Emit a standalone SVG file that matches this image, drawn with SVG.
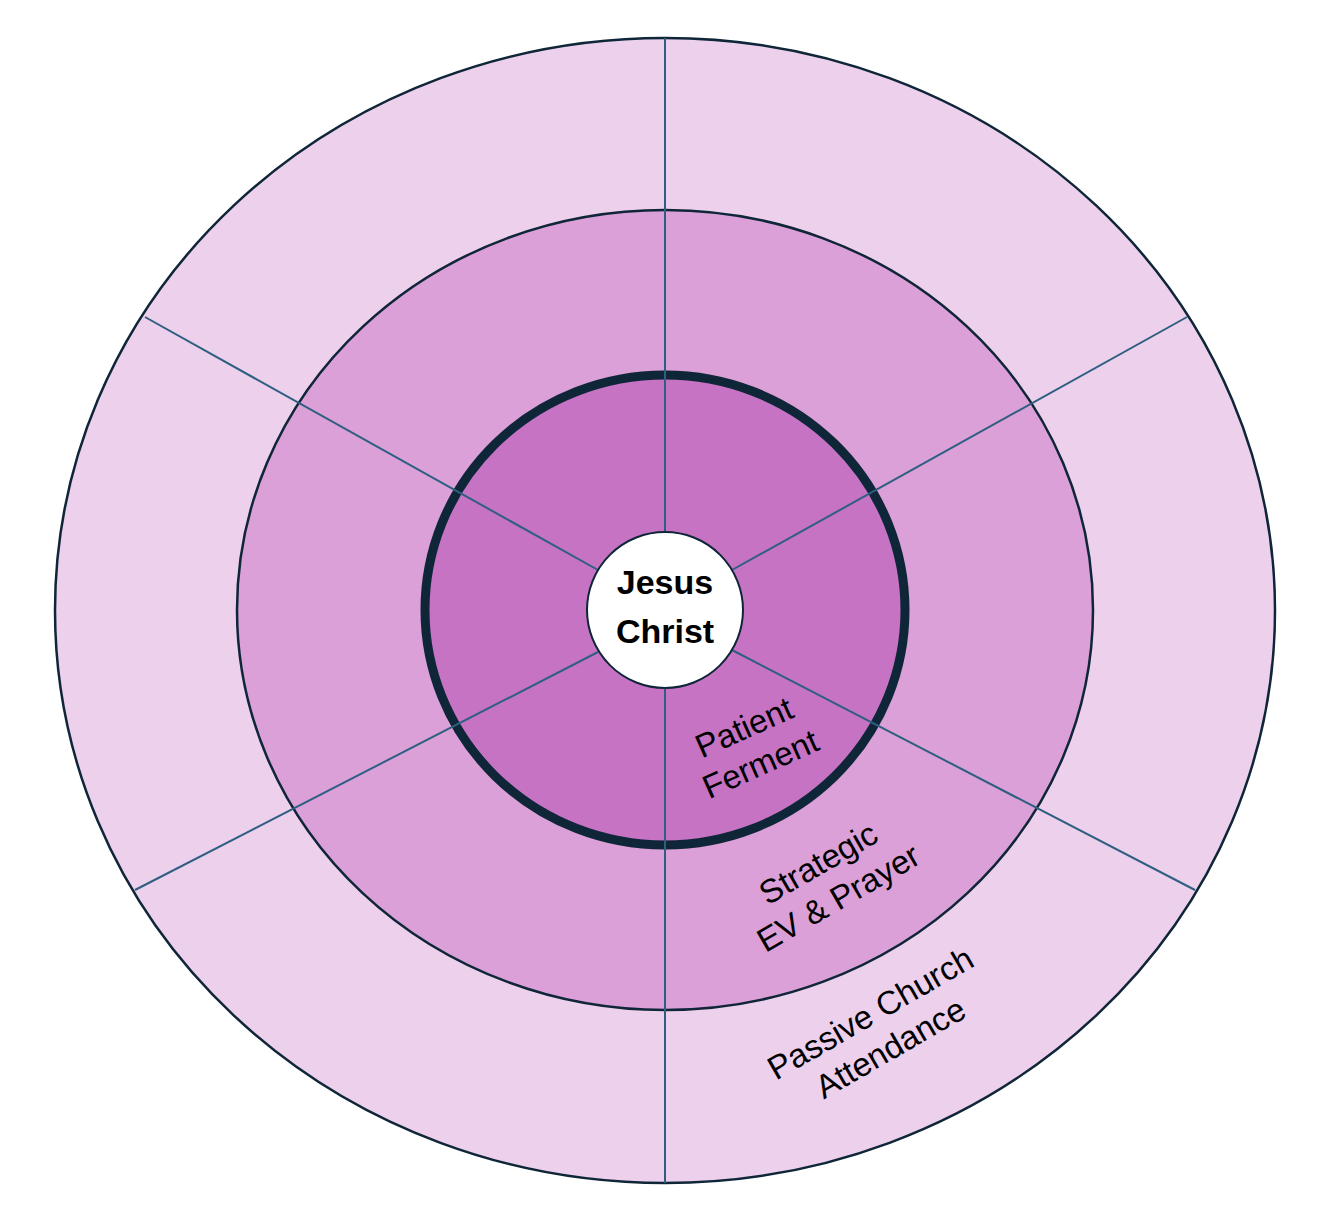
<svg xmlns="http://www.w3.org/2000/svg" width="1338" height="1222" viewBox="0 0 1338 1222">
<style>
.t{font-family:"Liberation Sans",Arial,sans-serif;font-size:33px;fill:#000;text-anchor:middle}
.b{font-weight:bold;font-size:34px}
.sp{stroke:#2F5F80;stroke-width:2}
</style>
<rect width="1338" height="1222" fill="#fff"/>
<g id="outer"><ellipse cx="665" cy="610.5" rx="610" ry="572.5" fill="#EDD0EC" stroke="#0F2538" stroke-width="2.5"/></g>
<g id="middle"><ellipse cx="665" cy="610" rx="428" ry="400" fill="#DAA0D7" stroke="#0F2538" stroke-width="2.5"/></g>
<g id="inner"><ellipse cx="665" cy="610" rx="240" ry="235" fill="#C673C4" stroke="#0F2538" stroke-width="9"/></g>
<g id="connectors">
<line class="sp" x1="665" y1="38" x2="665" y2="533"/>
<line class="sp" x1="665" y1="688" x2="665" y2="1183"/>
<line class="sp" x1="145" y1="317" x2="598" y2="570"/>
<line class="sp" x1="135" y1="890" x2="598" y2="652"/>
<line class="sp" x1="1187" y1="317" x2="732" y2="570"/>
<line class="sp" x1="1195" y1="890" x2="732" y2="650"/>
</g>
<g id="center"><circle cx="665" cy="610" r="78" fill="#fff" stroke="#0F2538" stroke-width="2"/>
<text class="t b" x="665" y="594">Jesus</text><text class="t b" x="665" y="643">Christ</text></g>
<g id="lbl1" transform="translate(752,745) rotate(-24)"><text class="t" x="0" y="-8">Patient</text><text class="t" x="0" y="32">Ferment</text></g>
<g id="lbl2" transform="translate(828,880) rotate(-30)"><text class="t" x="0" y="-8">Strategic</text><text class="t" x="0" y="32">EV &amp; Prayer</text></g>
<g id="lbl3" transform="translate(880,1030) rotate(-30)"><text class="t" x="0" y="-8">Passive Church</text><text class="t" x="0" y="32">Attendance</text></g>
</svg>
